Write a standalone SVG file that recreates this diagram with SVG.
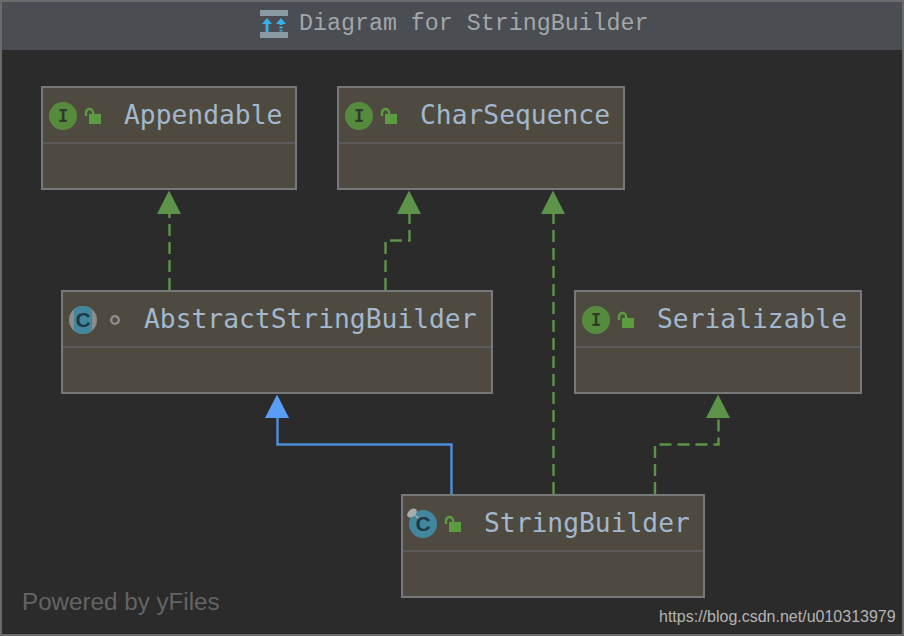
<svg xmlns="http://www.w3.org/2000/svg" width="904" height="636" viewBox="0 0 904 636">
<defs>
<clipPath id="abs"><circle cx="83" cy="320" r="14"/></clipPath>
</defs>
<style>
.box{fill:#4e4a40;stroke:#77787a;stroke-width:2}
.sep{stroke:#5c5b5b;stroke-width:2;fill:none}
.name{font-family:"DejaVu Sans Mono","Liberation Mono",monospace;font-size:26.300px;fill:#a3b7cd}
.dash{fill:none;stroke:#5d9449;stroke-width:2.400;stroke-dasharray:12 6}
.ahg{fill:#5d9449}
.lock{fill:#5d9b41}
.shackle{fill:none;stroke:#5d9b41;stroke-width:2.400}
.badge{fill:#568a3d}
.itxt{font-family:"DejaVu Sans Mono",monospace;font-size:17px;font-weight:bold;fill:#2f3a28;text-anchor:middle}
.ctxt{font-family:"Liberation Sans",sans-serif;font-size:21px;font-weight:bold;fill:#1e3a48;text-anchor:middle}
</style>
<rect width="904" height="636" fill="#6b6b6b"/>
<rect x="2" y="2" width="900" height="632" fill="#2b2b2b"/>
<rect x="2" y="2" width="900" height="48" fill="#4a4d52"/>
<g id="title">
<rect x="260" y="10" width="28" height="6" fill="#8a9aa3"/>
<rect x="260" y="32" width="28" height="6" fill="#8a9aa3"/>
<path d="M262 24l5-6 5 6h-3.500v8h-3v-8z" fill="#36b2e6"/>
<path d="M276 24l5-6 5 6h-3.500v1h-3v-1z" fill="#36b2e6"/>
<path d="M281 26.500v5" stroke="#36b2e6" stroke-width="3" stroke-dasharray="2 1.500" fill="none"/>
<text x="299" y="30" font-family="'Liberation Mono',monospace" font-size="23.300" fill="#a2a6a8">Diagram for StringBuilder</text>
</g>
<g id="connectors">
<path class="dash" d="M169.500 290V214"/>
<path class="ahg" d="M169 190.500L157 214H181Z"/>
<path class="dash" d="M385.500 290V240.500H409.500V214"/>
<path class="ahg" d="M409 190.500L397 214H421Z"/>
<path class="dash" d="M553.500 494V214"/>
<path class="ahg" d="M553 190.500L541 214H565Z"/>
<path class="dash" d="M655 494V444.500H718.500V418"/>
<path class="ahg" d="M718 394.500L706 418H730Z"/>
<path d="M451.500 494V444.500H277.500V418" fill="none" stroke="#4d8fdb" stroke-width="2.400"/>
<path d="M277 394.500L265 418H289Z" fill="#589df6"/>
</g>
<g id="appendable">
<rect class="box" x="42" y="87" width="254" height="102"/>
<path class="sep" d="M43 143H295"/>
<circle class="badge" cx="63" cy="116" r="14"/>
<text class="itxt" x="63" y="122">I</text>
<rect class="lock" x="89" y="114" width="12" height="10"/>
<path class="shackle" d="M86 116v-3.500a3.500 3.500 0 0 1 7 0v1.500"/>
<text class="name" x="124" y="124">Appendable</text>
</g>
<g id="charsequence">
<rect class="box" x="338" y="87" width="286" height="102"/>
<path class="sep" d="M339 143H623"/>
<circle class="badge" cx="359" cy="116" r="14"/>
<text class="itxt" x="359" y="122">I</text>
<rect class="lock" x="385" y="114" width="12" height="10"/>
<path class="shackle" d="M382 116v-3.500a3.500 3.500 0 0 1 7 0v1.500"/>
<text class="name" x="420" y="124">CharSequence</text>
</g>
<g id="abstractstringbuilder">
<rect class="box" x="62" y="291" width="430" height="102"/>
<path class="sep" d="M63 347H491"/>
<circle cx="83" cy="320" r="14" fill="#8a8c8e"/>
<rect x="74" y="305" width="18" height="30" fill="#43879f" clip-path="url(#abs)"/>
<text class="ctxt" x="83" y="327">C</text>
<circle cx="115" cy="320" r="3.800" fill="none" stroke="#8a8c8e" stroke-width="2.500"/>
<text class="name" x="144" y="328">AbstractStringBuilder</text>
</g>
<g id="serializable">
<rect class="box" x="575" y="291" width="286" height="102"/>
<path class="sep" d="M576 347H860"/>
<circle class="badge" cx="596" cy="320" r="14"/>
<text class="itxt" x="596" y="326">I</text>
<rect class="lock" x="622" y="318" width="12" height="10"/>
<path class="shackle" d="M619 320v-3.500a3.500 3.500 0 0 1 7 0v1.500"/>
<text class="name" x="657" y="328">Serializable</text>
</g>
<g id="stringbuilder">
<rect class="box" x="402" y="495" width="302" height="102"/>
<path class="sep" d="M403 551H703"/>
<circle cx="423" cy="524" r="14" fill="#43879f"/>
<ellipse cx="412" cy="513" rx="5.500" ry="3.500" fill="#a9abad" transform="rotate(-40 412 513)"/>
<path d="M415 515l4 4" stroke="#a9abad" stroke-width="1.500"/>
<text class="ctxt" x="423" y="531">C</text>
<rect class="lock" x="449" y="522" width="12" height="10"/>
<path class="shackle" d="M446 524v-3.500a3.500 3.500 0 0 1 7 0v1.500"/>
<text class="name" x="484" y="532">StringBuilder</text>
</g>
<text x="22" y="610" font-family="'Liberation Sans',sans-serif" font-size="24.200" fill="#646464">Powered by yFiles</text>
<text x="659" y="622" font-family="'Liberation Sans',sans-serif" font-size="16" fill="#b4b4b4">https://blog.csdn.net/u010313979</text>
</svg>
